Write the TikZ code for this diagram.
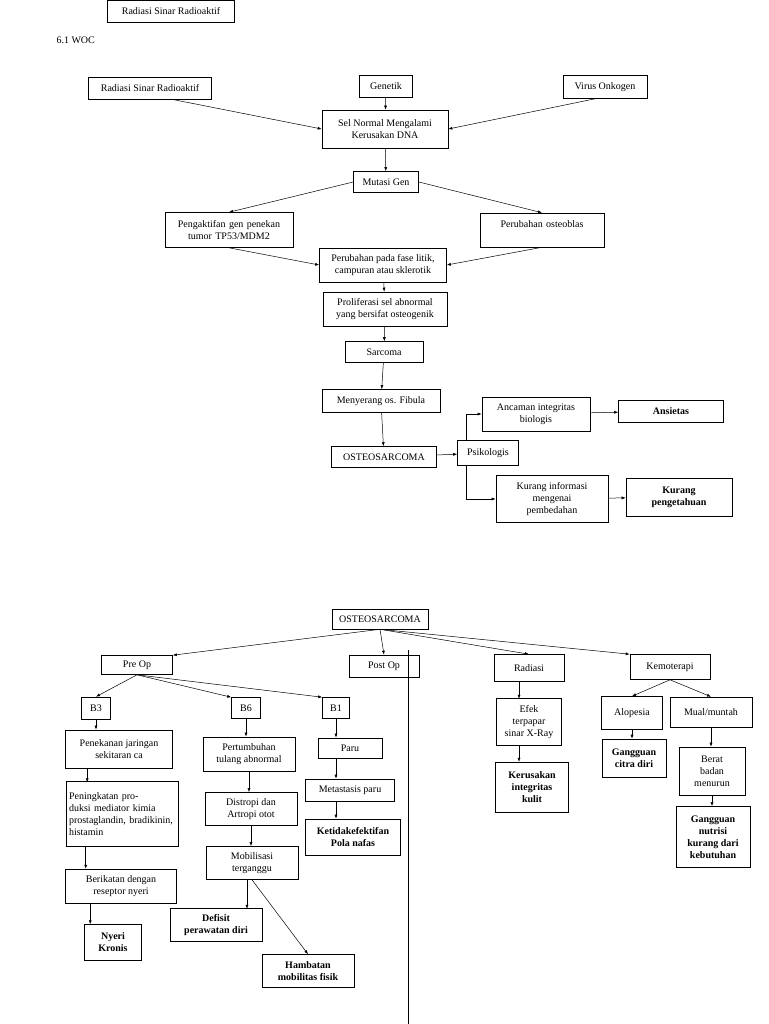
\documentclass[tikz,border=0pt]{standalone}
\usepackage{fontspec}
\setmainfont{Liberation Serif}
\usetikzlibrary{arrows.meta,calc}
\begin{document}
\begin{tikzpicture}
   [x=1pt,y=-1pt,
	box/.style={draw,line width=0.6pt,align=center,inner sep=2pt,
	 font=\fontsize{10}{12}\selectfont},
	dx/.style={box,font=\fontsize{10}{12}\selectfont\bfseries},
	arr/.style={-{Latex[length=4pt,width=3pt]},line width=0.5pt}]
\useasboundingbox (0,0) rectangle (768,1024);

% upper part
\node [box,minimum width=127,minimum height=22] (judul) at (171,11) {Radiasi Sinar Radioaktif};
\node [font=\fontsize{10}{12}\selectfont,anchor=west] (woc) at (53,40) {6.1 WOC};
\node [box,minimum width=123,minimum height=22] (radiasi) at (150,88) {Radiasi Sinar Radioaktif};
\node [box,minimum width=53,minimum height=22] (genetik) at (386,86) {Genetik};
\node [box,minimum width=84,minimum height=23] (virus) at (605,87) {Virus Onkogen};
\node [box,minimum width=126,minimum height=38] (sel) at (385,129) {Sel Normal Mengalami\\Kerusakan DNA};
\node [box,minimum width=65,minimum height=21] (mutasi) at (386,182) {Mutasi Gen};
\node [box,minimum width=128,minimum height=35,text width=120] (aktif) at (229,230) {Pengaktifan gen penekan\\tumor TP53/MDM2};
\node [box,minimum width=124,minimum height=34,text width=118,text depth=12] (osteo) at (542,230) {Perubahan osteoblas};
\node [box,minimum width=127,minimum height=34] (fase) at (383,265) {Perubahan pada fase litik,\\campuran atau sklerotik};
\node [box,minimum width=124,minimum height=34] (prolif) at (385,309) {Proliferasi sel abnormal\\yang bersifat osteogenik};
\node [box,minimum width=78,minimum height=21] (sarcoma) at (384,352) {Sarcoma};
\node [box,minimum width=118,minimum height=23] (fibula) at (381,401) {Menyerang os. Fibula};
\node [box,minimum width=105,minimum height=21] (os) at (384,457) {OSTEOSARCOMA};
\node [box,minimum width=61,minimum height=25] (psiko) at (488,453) {Psikologis};
\node [box,minimum width=108,minimum height=34] (ancaman) at (536,414) {Ancaman integritas\\biologis};
\node [dx,minimum width=105,minimum height=22] (ansietas) at (671,411) {Ansietas};
\node [box,minimum width=112,minimum height=47] (info) at (552,499) {Kurang informasi\\mengenai\\pembedahan};
\node [dx,minimum width=106,minimum height=38] (tahu) at (679,497) {Kurang\\pengetahuan};

\draw [arr] (radiasi.south east) ++(-40,0) -- (sel.west);
\draw [arr] (genetik) -- (sel);
\draw [arr] (virus.south) ++(-10,0) -- (sel.east);
\draw [arr] (sel) -- (mutasi);
\draw [arr] (mutasi.west) -- (aktif.north);
\draw [arr] (mutasi.east) -- (osteo.north);
\draw [arr] (aktif.south) -- (fase.west);
\draw [arr] (osteo.south) -- (fase.east);
\draw [arr] (fase) -- (prolif);
\draw [arr] (prolif) -- (sarcoma);
\draw [arr] (sarcoma) -- (fibula);
\draw [arr] (fibula) -- (os);
\draw [arr] (os) -- (psiko);
\coordinate (cab) at ($(psiko.south west)!0.15!(psiko.south east)$);
\draw [arr] (cab |- psiko.north) |- (ancaman.west);
\draw [arr] (cab) |- (info.west);
\draw [arr] (ancaman) -- (ansietas);
\draw [arr] (info) -- (tahu);

% lower part
\node [box,minimum width=96,minimum height=20] (os2) at (380,619) {OSTEOSARCOMA};
\node [box,minimum width=71,minimum height=19] (pre) at (137,665) {Pre Op};
\node [box,minimum width=70,minimum height=22] (post) at (384,666) {Post Op};
\node [box,minimum width=70,minimum height=27] (rad) at (529,668) {Radiasi};
\node [box,minimum width=80,minimum height=25] (kemo) at (670,667) {Kemoterapi};
\node [box,minimum width=29,minimum height=22] (b3) at (96,708) {B3};
\node [box,minimum width=29,minimum height=21] (b6) at (246,708) {B6};
\node [box,minimum width=27,minimum height=21] (b1) at (336,708) {B1};
\node [box,minimum width=107,minimum height=38] (tekan) at (119,749) {Penekanan jaringan\\sekitaran ca};
\node [box,minimum width=112,minimum height=65,align=left,text width=106] (media) at (122,814) {Peningkatan produksi mediator kimia prostaglandin, bradikinin, histamin};
\node [box,minimum width=111,minimum height=34] (ikat) at (121,886) {Berikatan dengan\\reseptor nyeri};
\node [dx,minimum width=57,minimum height=36] (nyeri) at (113,942) {Nyeri\\Kronis};
\node [box,minimum width=92,minimum height=34] (tumbuh) at (249,754) {Pertumbuhan\\tulang abnormal};
\node [box,minimum width=92,minimum height=33] (distro) at (251,809) {Distropi dan\\Artropi otot};
\node [box,minimum width=92,minimum height=33] (mobil) at (252,863) {Mobilisasi\\terganggu};
\node [dx,minimum width=92,minimum height=33] (defisit) at (216,925) {Defisit\\perawatan diri};
\node [dx,minimum width=92,minimum height=33] (hambat) at (308,971) {Hambatan\\mobilitas fisik};
\node [box,minimum width=64,minimum height=20] (paru) at (350,748) {Paru};
\node [box,minimum width=89,minimum height=22] (meta) at (350,790) {Metastasis paru};
\node [dx,minimum width=95,minimum height=36] (pola) at (353,837) {Ketidakefektifan\\Pola nafas};
\node [box,minimum width=65,minimum height=47] (efek) at (529,722) {Efek\\terpapar\\sinar X-Ray};
\node [dx,minimum width=73,minimum height=50] (kulit) at (532,787) {Kerusakan\\integritas\\kulit};
\node [box,minimum width=61,minimum height=33] (alo) at (632,713) {Alopesia};
\node [box,minimum width=82,minimum height=30] (mual) at (711,712) {Mual/muntah};
\node [dx,minimum width=64,minimum height=38] (citra) at (634,758) {Gangguan\\citra diri};
\node [box,minimum width=66,minimum height=48] (berat) at (712,771) {Berat\\badan\\menurun};
\node [dx,minimum width=74,minimum height=61] (nutrisi) at (713,837) {Gangguan\\nutrisi\\kurang dari\\kebutuhan};
\coordinate (garis) at (408,650);

\draw [line width=0.5pt] (garis) -- (garis |- 0,1024);
\draw [arr] (os2.south) -- (pre.north east);
\draw [arr] (os2.south) -- (post.north);
\draw [arr] (os2.south) -- (rad.north);
\draw [arr] (os2.south) -- (kemo.north west);
\draw [arr] (pre.south) -- (b3.north);
\draw [arr] (pre.south) -- (b6.north west);
\draw [arr] (pre.south) -- (b1.north west);
\draw [arr] (b3) -- (b3 |- tekan.north);
\draw [arr] (tekan.south west) ++(22,0) -- ++(0,14);
\draw [arr] (media.south west) ++(20,0) -- ++(0,22);
\draw [arr] (ikat.south west) ++(25,0) -- ++(0,21);
\draw [arr] (b6) -- (b6 |- tumbuh.north);
\draw [arr] (tumbuh) -- (tumbuh |- distro.north);
\draw [arr] (distro) -- (distro |- mobil.north);
\draw [arr] (mobil.south) ++(-5,0) -- ++(0,29);
\draw [arr] (mobil.south) -- (hambat.north);
\draw [arr] (b1) -- (b1 |- paru.north);
\draw [arr] (b1 |- paru.south) -- (b1 |- meta.north);
\draw [arr] (b1 |- meta.south) -- (b1 |- pola.north);
\draw [arr] (rad.south) ++(-10,0) -- ++(0,17);
\draw [arr] (efek.south) ++(-10,0) -- ++(0,16);
\draw [arr] (kemo.south) -- (alo.north);
\draw [arr] (kemo.south) -- (mual.north);
\draw [arr] (alo) -- (alo |- citra.north);
\draw [arr] (mual) -- (mual |- berat.north);
\draw [arr] (berat) -- (berat |- nutrisi.north);
\end{tikzpicture}
\end{document}
